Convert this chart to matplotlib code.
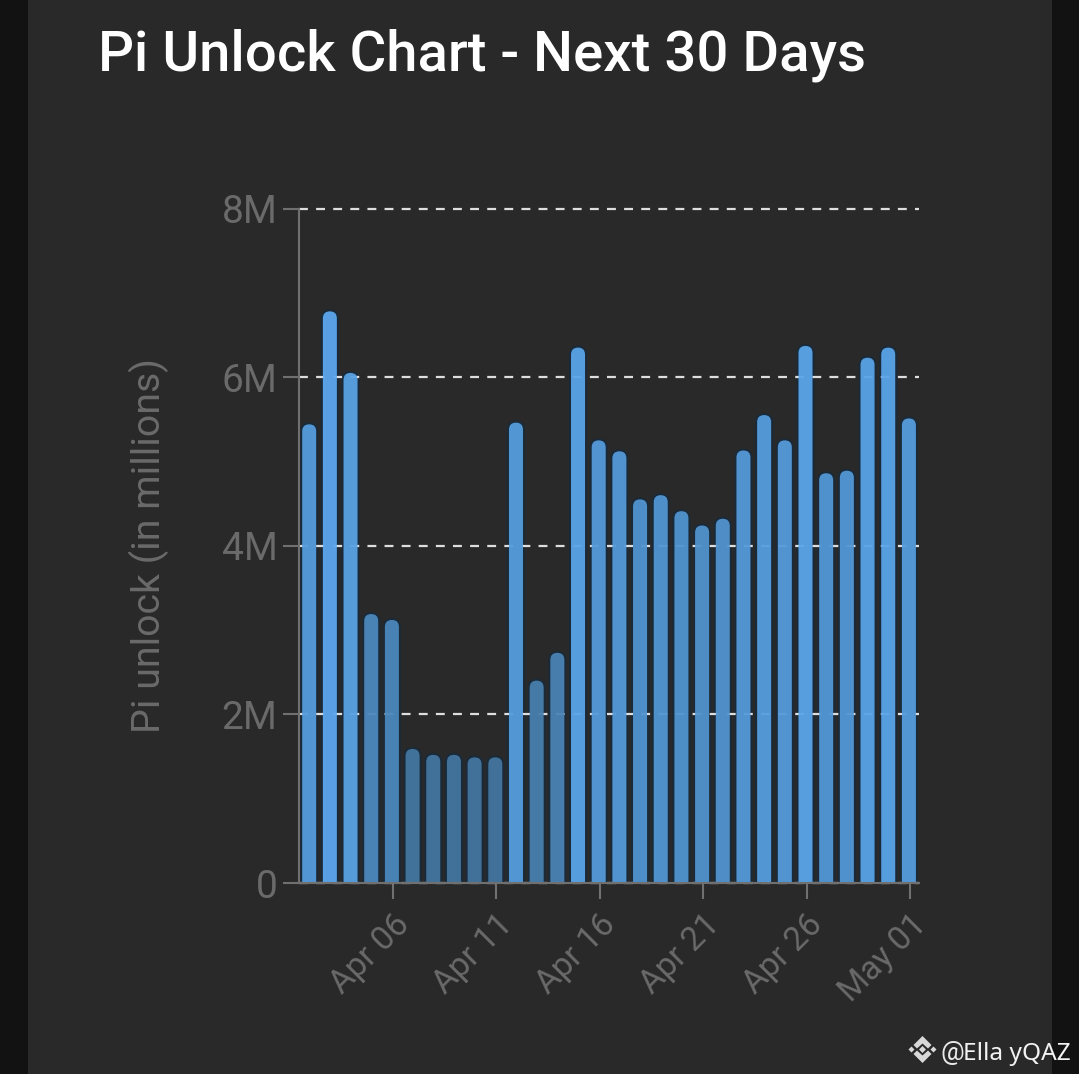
import datetime as dt
import matplotlib
matplotlib.use("Agg")
import matplotlib.pyplot as plt
import matplotlib.dates as mdates
from matplotlib.colors import LinearSegmentedColormap, Normalize
from matplotlib.patches import FancyBboxPatch, Polygon

plt.rcParams['font.family'] = ['Roboto', 'DejaVu Sans']

# Pi unlock per day, millions
unlock = [5.44, 6.78, 6.05, 3.19, 3.12, 1.59, 1.52, 1.52, 1.49, 1.49,
          5.46, 2.40, 2.73, 6.35, 5.25, 5.12, 4.55, 4.60, 4.41, 4.24,
          4.32, 5.13, 5.55, 5.25, 6.37, 4.86, 4.89, 6.23, 6.35, 5.51]
first_day = dt.date(2025, 4, 2)
days = [first_day + dt.timedelta(days=i) for i in range(len(unlock))]
y_ticks = [0, 2, 4, 6, 8]
y_tick_labels = ['0', '2M', '4M', '6M', '8M']
x_tick_days = [dt.date(2025, 4, 6), dt.date(2025, 4, 11), dt.date(2025, 4, 16),
               dt.date(2025, 4, 21), dt.date(2025, 4, 26), dt.date(2025, 5, 1)]

W, H = 1079, 1074
AXIS = '#707070'
TXT = '#6a6a6a'

fig = plt.figure(figsize=(W / 100, H / 100), dpi=100, facecolor='#121212')

# lighter panel with dark strips at both sides
fig.patches.append(plt.Rectangle((28 / W, 0), (1052 - 28) / W, 1, transform=fig.transFigure,
                                 facecolor='#292929', edgecolor='none', zorder=-5))

# axes box in pixels: x 299..919, y 208.5..883
ax = fig.add_axes([299 / W, 1 - 883 / H, 620 / W, (883 - 208.5) / H])
ax.patch.set_alpha(0)
x0 = mdates.date2num(dt.date(2025, 4, 6))
ax.set_xlim(x0 - 94 / 20.68, x0 + 526 / 20.68)
ax.set_ylim(0, 8)

# grid sits over the bar halos but under the bars
ax.grid(axis='y', color='#dedede', linestyle=(0, (4.0, 3.7)), linewidth=1.6, zorder=2)
ax.set_axisbelow(False)
for gl in ax.get_ygridlines():
    gl.set_zorder(2)
    gl.set_clip_on(False)

# bars get lighter with height, rounded top, dark halo
cmap = LinearSegmentedColormap.from_list('bars', ['#44769F', '#5092CC', '#5CA8EE'])
norm = Normalize(1.5, 6.8)
bar_w = 14 / 20.68
aspect = 20.68 / 84.3
bar_shift = -1.1 / 20.68
for d, v in zip(days, unlock):
    xn = mdates.date2num(d) + bar_shift
    # starts below 0 so that the lower rounding is clipped away
    box = dict(boxstyle='round,pad=0,rounding_size=%f' % (bar_w / 2), mutation_aspect=aspect)
    halo = FancyBboxPatch((xn - bar_w / 2, -1), bar_w, v + 1, facecolor='#1a2631', edgecolor='#1b2a38',
                          linewidth=3.0, zorder=1, **box)
    ax.add_patch(halo)
    bar = FancyBboxPatch((xn - bar_w / 2, -1), bar_w, v + 1, facecolor=cmap(norm(v)), edgecolor='none',
                         alpha=0.95, zorder=3, **box)
    ax.add_patch(bar)

for s in ['top', 'right']:
    ax.spines[s].set_visible(False)
for s in ['left', 'bottom']:
    ax.spines[s].set_color(AXIS)
    ax.spines[s].set_linewidth(1.5)
    ax.spines[s].set_zorder(4)

ax.set_yticks(y_ticks)
ax.set_yticklabels(y_tick_labels)
ax.set_xticks([mdates.date2num(d) for d in x_tick_days])
ax.set_xticklabels([d.strftime('%b %d') for d in x_tick_days], rotation=45, ha='right',
                    rotation_mode='anchor')
ax.tick_params(axis='y', length=11.5, width=1.5, color=AXIS, labelcolor=TXT, labelsize=28, pad=4)
ax.tick_params(axis='x', length=11.5, width=1.5, color=AXIS, labelcolor=TXT, labelsize=24, pad=7)
ax.set_ylabel('Pi unlock (in millions)', color=TXT, fontsize=28.3, labelpad=38)

fig.text(98 / W, 1 - 70 / H, 'Pi Unlock Chart - Next 30 Days', color='white', fontsize=40.5,
         fontweight='medium', ha='left', va='baseline')

# watermark
fig.text(1071 / W, 1 - 1060 / H, 'Ella yQAZ', color='#f2f2f2', fontsize=17.6, family='Noto Sans',
         ha='right', va='baseline')
fig.text(964 / W, 1 - 1060 / H, '@', color='#e8e8e8', fontsize=19, ha='right', va='baseline')


def logo_part(points, cx=922.5, cy=1049.5):
    fig.patches.append(Polygon([((cx + px) / W, 1 - (cy + py) / H) for px, py in points],
                               transform=fig.transFigure, facecolor='#d8d8d8', edgecolor='none'))


logo_part([(0, -13.5), (9, -4.5), (5.5, -1), (0, -6), (-5.5, -1), (-9, -4.5)])
logo_part([(0, 13.5), (9, 4.5), (5.5, 1), (0, 6), (-5.5, 1), (-9, 4.5)])
for off, r in ((-11, 3), (0, 3.5), (11, 3)):
    logo_part([(off - r, 0), (off, -r), (off + r, 0), (off, r)])

fig.savefig('out.png', dpi=100, facecolor=fig.get_facecolor())
